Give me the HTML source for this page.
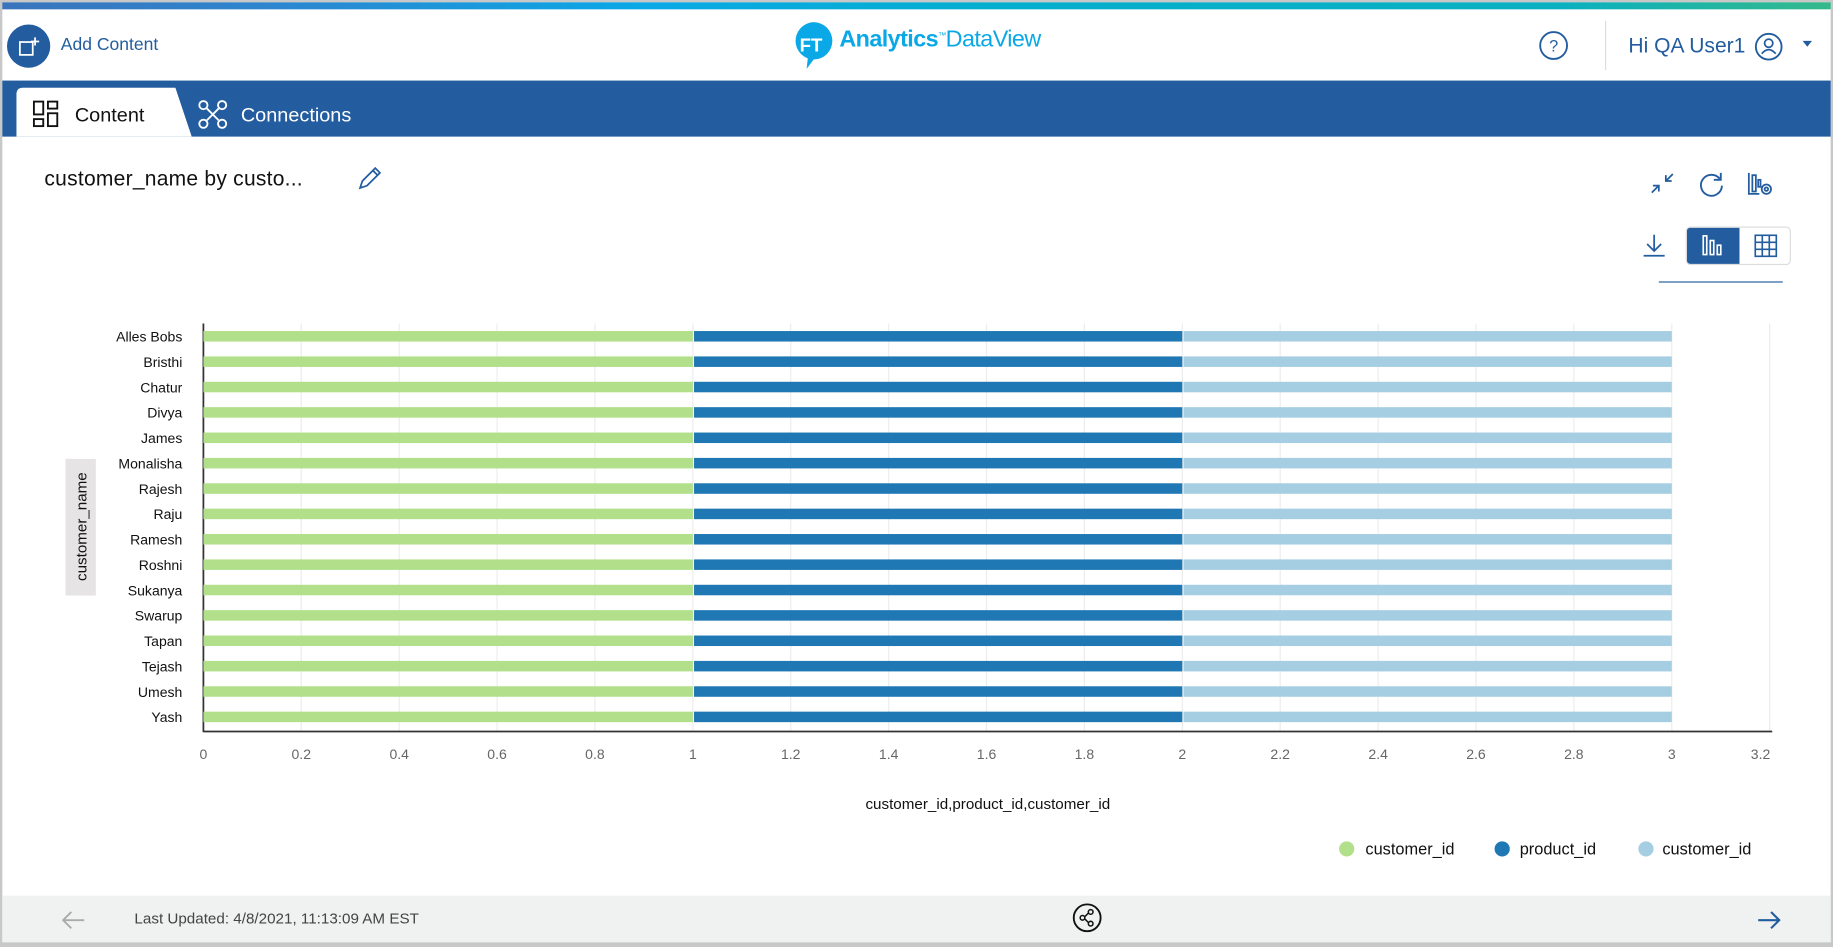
<!DOCTYPE html>
<html><head><meta charset="utf-8"><style>
html,body{margin:0;padding:0;width:1833px;height:947px;overflow:hidden;background:#fff;font-family:"Liberation Sans",sans-serif}
#w{position:absolute;left:0;top:0;width:1568px;height:811px;transform:scale(1.16901,1.16769);transform-origin:0 0;background:#fff}
.abs{position:absolute}
</style></head><body><div id="w">
<div class="abs" style="left:0;top:0;width:1568px;height:2px;background:#c8c8c8"></div>
<div class="abs" style="left:0;top:2px;width:1568px;height:6px;background:linear-gradient(90deg,#3a74bb 0%,#2d86cf 15%,#0aa8e6 35%,#05aecd 55%,#0ab0c0 85%,#35b98a 100%)"></div>
<div class="abs" style="left:0;top:0;width:2px;height:811px;background:#c8c8c8"></div>
<div class="abs" style="right:0;top:0;width:2px;height:811px;background:#c8c8c8"></div>
<!-- header -->
<div class="abs" style="left:6px;top:21px;width:37px;height:37px;border-radius:50%;background:#235d9f"></div>
<svg class="abs" style="left:14px;top:29px" width="22" height="22"><rect x="3" y="7" width="11" height="11" fill="none" stroke="#fff" stroke-width="1.5"/><path d="M16 3v7M12.5 6.5h7" stroke="#fff" stroke-width="1.5"/></svg>
<div class="abs" style="left:52px;top:30px;font-size:15px;color:#235d9f">Add Content</div>
<svg class="abs" style="left:678px;top:17px" width="40" height="44"><path d="M18 2a16 16 0 1 1 0 32l-6 8l1-9a16 16 0 0 1 5-31z" fill="#0aa8e6"/><text x="6" y="27" font-size="16" font-weight="bold" fill="#fff" font-family="Liberation Sans">FT</text></svg>
<div class="abs" style="left:718px;top:23px;font-size:20px;color:#0aa8e6;letter-spacing:-0.5px"><b>Analytics</b><sup style="font-size:7px">™</sup>DataView</div>
<svg class="abs" style="left:1316px;top:26px" width="26" height="26"><circle cx="13" cy="13" r="11.5" fill="none" stroke="#235d9f" stroke-width="1.6"/><text x="13" y="18" text-anchor="middle" font-size="14" fill="#235d9f">?</text></svg>
<div class="abs" style="left:1373px;top:18px;width:1px;height:42px;background:#ddd"></div>
<div class="abs" style="left:1393px;top:29px;font-size:18px;color:#235d9f">Hi QA User1</div>
<svg class="abs" style="left:1500px;top:27px" width="26" height="26"><circle cx="13" cy="13" r="11" fill="none" stroke="#235d9f" stroke-width="1.6"/><circle cx="13" cy="10" r="3.5" fill="none" stroke="#235d9f" stroke-width="1.5"/><path d="M7 19q6-7 12 0" fill="none" stroke="#235d9f" stroke-width="1.5"/></svg>
<div class="abs" style="left:1542px;top:35px;border-left:4px solid transparent;border-right:4px solid transparent;border-top:5px solid #235d9f"></div>
<!-- nav -->
<div class="abs" style="left:2px;top:69px;width:1564px;height:48px;background:#235d9f"></div>
<svg class="abs" style="left:14px;top:75px" width="150" height="42"><path d="M6 0H136L150 42H0V6Q0 0 6 0Z" fill="#fff"/></svg>
<svg class="abs" style="left:28px;top:86px" width="24" height="24"><g fill="none" stroke="#111" stroke-width="1.6"><rect x="1" y="1" width="8" height="11"/><rect x="13" y="1" width="8" height="6"/><rect x="1" y="16" width="8" height="6"/><rect x="13" y="11" width="8" height="11"/></g></svg>
<div class="abs" style="left:64px;top:89px;font-size:17px;color:#111">Content</div>
<svg class="abs" style="left:169px;top:85px" width="26" height="26"><g fill="none" stroke="#fff" stroke-width="1.6"><circle cx="5" cy="5" r="3.5"/><circle cx="21" cy="5" r="3.5"/><circle cx="5" cy="21" r="3.5"/><circle cx="21" cy="21" r="3.5"/><path d="M8 8l10 10M18 8L8 18"/></g></svg>
<div class="abs" style="left:206px;top:89px;font-size:17px;color:#fff">Connections</div>
<!-- title -->
<div class="abs" style="left:38px;top:143px;font-size:18px;color:#111;letter-spacing:0.2px">customer_name by custo...</div>
<svg class="abs" style="left:304px;top:141px" width="24" height="24"><path d="M4 20l2-6L17 3l4 4L10 18z M15 5l4 4" fill="none" stroke="#235d9f" stroke-width="1.5"/></svg>
<!-- right icons -->
<svg class="abs" style="left:1410px;top:146px" width="24" height="24"><path d="M3 19l6-6M4 13h5v5M21 3l-6 6M15 4v5h5" fill="none" stroke="#235d9f" stroke-width="1.5"/></svg>
<svg class="abs" style="left:1451px;top:145px" width="26" height="26"><path d="M20 8A9 9 0 1 0 22 14M21 3v6h-6" fill="none" stroke="#235d9f" stroke-width="1.6"/></svg>
<svg class="abs" style="left:1494px;top:146px" width="26" height="26"><g fill="none" stroke="#235d9f" stroke-width="1.5"><path d="M2 2v18h9"/><rect x="5" y="4" width="3" height="14"/><rect x="10" y="8" width="2" height="6"/><circle cx="17" cy="16" r="4"/><circle cx="17" cy="16" r="1.5"/></g></svg>
<svg class="abs" style="left:1403px;top:198px" width="24" height="24"><path d="M12 3v14M6 11l6 6 6-6M3 21h18" fill="none" stroke="#235d9f" stroke-width="1.5"/></svg>
<div class="abs" style="left:1442px;top:194px;width:90px;height:33px;border:1px solid #ddd;border-radius:4px;box-sizing:border-box;overflow:hidden">
<div style="width:45px;height:33px;background:#235d9f"></div></div>
<svg class="abs" style="left:1454px;top:200px" width="22" height="22"><g fill="none" stroke="#fff" stroke-width="1.4"><rect x="3" y="2" width="3" height="16"/><rect x="9" y="6" width="3" height="12"/><rect x="15" y="10" width="3" height="8"/></g></svg>
<svg class="abs" style="left:1500px;top:200px" width="22" height="22"><g fill="none" stroke="#235d9f" stroke-width="1.4"><rect x="1.5" y="1.5" width="18" height="18"/><path d="M7.5 1.5v18M13.5 1.5v18M1.5 7.5h18M1.5 13.5h18"/></g></svg>
<div class="abs" style="left:1419px;top:241px;width:106px;height:1px;background:#235d9f"></div>
<!-- chart -->
<svg class="abs" style="left:0;top:0" width="1568" height="811" font-family="Liberation Sans">
<g stroke="#ececec" stroke-width="1">
<line x1="257.7" y1="277" x2="257.7" y2="626"/><line x1="341.5" y1="277" x2="341.5" y2="626"/><line x1="425.2" y1="277" x2="425.2" y2="626"/><line x1="508.9" y1="277" x2="508.9" y2="626"/><line x1="592.7" y1="277" x2="592.7" y2="626"/><line x1="676.4" y1="277" x2="676.4" y2="626"/><line x1="760.2" y1="277" x2="760.2" y2="626"/><line x1="843.9" y1="277" x2="843.9" y2="626"/><line x1="927.6" y1="277" x2="927.6" y2="626"/><line x1="1011.4" y1="277" x2="1011.4" y2="626"/><line x1="1095.1" y1="277" x2="1095.1" y2="626"/><line x1="1178.9" y1="277" x2="1178.9" y2="626"/><line x1="1262.6" y1="277" x2="1262.6" y2="626"/><line x1="1346.3" y1="277" x2="1346.3" y2="626"/><line x1="1430.1" y1="277" x2="1430.1" y2="626"/><line x1="1513.8" y1="277" x2="1513.8" y2="626"/>
</g>
<line x1="174" y1="277" x2="174" y2="627" stroke="#333" stroke-width="1.5"/>
<line x1="174" y1="626.5" x2="1516" y2="626.5" stroke="#333" stroke-width="1.5"/>
<g id="bars"></g>
<g font-size="12" fill="#111" text-anchor="end" id="ylab"></g>
<g font-size="12" fill="#666" text-anchor="middle">
<text x="174" y="650">0</text><text x="257.7" y="650">0.2</text><text x="341.5" y="650">0.4</text><text x="425.2" y="650">0.6</text><text x="508.9" y="650">0.8</text><text x="592.7" y="650">1</text><text x="676.4" y="650">1.2</text><text x="760.2" y="650">1.4</text><text x="843.9" y="650">1.6</text><text x="927.6" y="650">1.8</text><text x="1011.4" y="650">2</text><text x="1095.1" y="650">2.2</text><text x="1178.9" y="650">2.4</text><text x="1262.6" y="650">2.6</text><text x="1346.3" y="650">2.8</text><text x="1430.1" y="650">3</text><text x="1506" y="650">3.2</text>
</g>
<text x="845" y="693" font-size="13" fill="#111" text-anchor="middle">customer_id,product_id,customer_id</text>
<rect x="56" y="393" width="26" height="117" fill="#e6e4e4"/>
<text transform="translate(74,451) rotate(-90)" font-size="13" fill="#111" text-anchor="middle">customer_name</text>
<circle cx="1152" cy="727" r="6.5" fill="#b2df8a"/><text x="1168" y="732" font-size="14" fill="#111">customer_id</text>
<circle cx="1285" cy="727" r="6.5" fill="#1f78b4"/><text x="1300" y="732" font-size="14" fill="#111">product_id</text>
<circle cx="1408" cy="727" r="6.5" fill="#a6cee3"/><text x="1422" y="732" font-size="14" fill="#111">customer_id</text>
</svg>
<!-- footer -->
<div class="abs" style="left:2px;top:767px;width:1564px;height:40px;background:#f0f1f1"></div>
<div class="abs" style="left:0;top:807px;width:1568px;height:4px;background:#c8c8c8"></div>
<svg class="abs" style="left:50px;top:777px" width="26" height="22"><path d="M22 11H4M11 4l-7 7 7 7" fill="none" stroke="#aaa" stroke-width="1.6"/></svg>
<div class="abs" style="left:115px;top:779px;font-size:13px;color:#444">Last Updated: 4/8/2021, 11:13:09 AM EST</div>
<svg class="abs" style="left:917px;top:773px" width="26" height="26"><circle cx="13" cy="13" r="11.5" fill="none" stroke="#111" stroke-width="1.6"/><g fill="none" stroke="#111" stroke-width="1.3"><circle cx="16" cy="8" r="2"/><circle cx="9" cy="13" r="2"/><circle cx="16" cy="18" r="2"/><path d="M11 12l3-3M11 14l3 3"/></g></svg>
<svg class="abs" style="left:1500px;top:777px" width="26" height="22"><path d="M4 11h18M15 4l7 7-7 7" fill="none" stroke="#235d9f" stroke-width="1.8"/></svg>
</div>
<script>
var names=["Alles Bobs","Bristhi","Chatur","Divya","James","Monalisha","Rajesh","Raju","Ramesh","Roshni","Sukanya","Swarup","Tapan","Tejash","Umesh","Yash"];
var b=document.getElementById('bars'),l=document.getElementById('ylab'),ns="http://www.w3.org/2000/svg";
names.forEach(function(n,i){var y=288+i*21.73;
[[174,592.7,"#b2df8a"],[593.7,1011.4,"#1f78b4"],[1012.4,1430.1,"#a6cee3"]].forEach(function(s){var r=document.createElementNS(ns,'rect');r.setAttribute('x',s[0]);r.setAttribute('y',y-4.5);r.setAttribute('width',s[1]-s[0]);r.setAttribute('height',9);r.setAttribute('fill',s[2]);b.appendChild(r);});
var t=document.createElementNS(ns,'text');t.setAttribute('x',156);t.setAttribute('y',y+4.5);t.textContent=n;l.appendChild(t);});
</script>
</body></html>
